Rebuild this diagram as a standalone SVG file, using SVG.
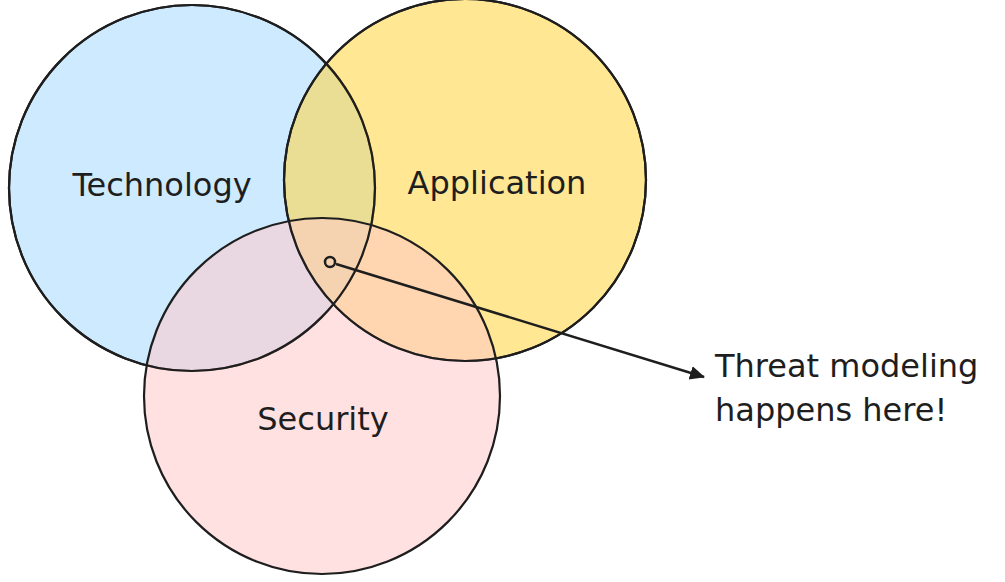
<svg xmlns="http://www.w3.org/2000/svg" width="1005" height="582" viewBox="0 0 1005 582">
<style>
.f{stroke:none;fill-opacity:0.55}
.o{fill:none;stroke:#1e1e1e;stroke-width:2.2}
.t{font-family:"Comic Sans MS","DejaVu Sans",sans-serif;font-size:32px;fill:#1e1e1e}
</style>
<defs><marker id="a" markerWidth="16" markerHeight="16" refX="14" refY="8" orient="auto" markerUnits="userSpaceOnUse"><path d="M0,1 L15,8 L0,15 z" fill="#1e1e1e"/></marker></defs>
<rect width="1005" height="582" fill="#fff"/>
<g id="technology"><circle class="f" cx="192" cy="188" r="183" fill="#a5d8ff"/><circle class="o" cx="192" cy="188" r="183"/></g>
<g id="application"><circle class="f" cx="465" cy="180" r="181" fill="#ffd43b"/><circle class="o" cx="465" cy="180" r="181"/></g>
<g id="security"><circle class="f" cx="322" cy="396" r="178" fill="#ffc9c9"/><circle class="o" cx="322" cy="396" r="178"/></g>
<g id="outlines"><circle class="o" cx="192" cy="188" r="183"/><circle class="o" cx="465" cy="180" r="181"/></g>
<text class="t" x="162" y="196" text-anchor="middle">Technology</text>
<text class="t" x="497" y="194" text-anchor="middle">Application</text>
<text class="t" x="323" y="430" text-anchor="middle">Security</text>
<g id="connectors">
<circle cx="330" cy="262" r="5" fill="none" stroke="#1e1e1e" stroke-width="2.5"/>
<line x1="336" y1="264" x2="704" y2="377" stroke="#1e1e1e" stroke-width="2.5" marker-end="url(#a)"/>
</g>
<g id="note">
<text class="t" x="715" y="377">Threat modeling</text>
<text class="t" x="715" y="421">happens here!</text>
</g>
</svg>
